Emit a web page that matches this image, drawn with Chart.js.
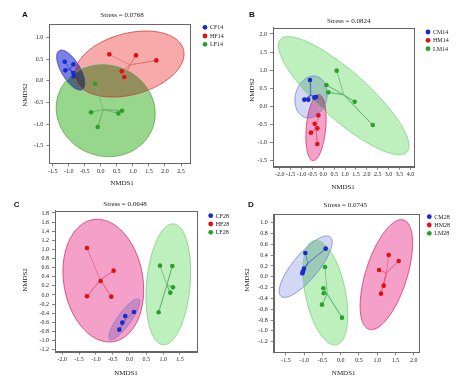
<!DOCTYPE html>
<html><head><meta charset="utf-8">
<style>html,body{margin:0;padding:0;background:#fff;width:474px;height:380px;overflow:hidden}canvas{position:absolute}</style>
<script src="https://cdn.jsdelivr.net/npm/chart.js@4"></script>
</head><body>
<script>
// ---------- DATA ----------
// Panel A
const aNames = ['CF14', 'HF14', 'LF14'];
const aStress = 'Stress = 0.0768';
const aBlue = [[-1.126,0.444],[-0.856,0.383],[-1.105,0.244],[-0.856,0.182],[-0.845,0.105]];
const aRed = [[0.266,0.614],[1.097,0.591],[1.731,0.475],[0.651,0.221],[0.734,0.090]];
const aGreen = [[-0.181,-0.065],[-0.305,-0.728],[-0.097,-1.068],[0.547,-0.752],[0.661,-0.690]];
const aCenters = [[-0.96,0.27],[0.91,0.37],[0.08,-0.66]];
// ellipse: [cx, cy, ux, uy, vx, vy] (centre + two conjugate semi-axes)
const aEllipses = [[-0.939,0.252,0.359,-0.448,0.249,0.110],[0.890,0.390,1.686,0.336,0.247,-0.686],[0.152,-0.690,1.465,-0.396,-0.483,-0.986]];
const aXTicks = [-1.5,-1.0,-0.5,0.0,0.5,1.0,1.5,2.0,2.5];
const aYTicks = [-1.5,-1.0,-0.5,0.0,0.5,1.0];

// Panel B
const bNames = ['CM14', 'HM14', 'LM14'];
const bStress = 'Stress = 0.0824';
const bBlue = [[-0.607,0.729],[-0.867,0.186],[-0.684,0.186],[-0.408,0.241],[-0.332,0.259]];
const bRed = [[-0.224,-0.247],[-0.393,-0.478],[-0.270,-0.607],[-0.561,-0.726],[-0.270,-1.040]];
const bGreen = [[0.617,0.987],[0.143,0.591],[0.235,0.388],[1.444,0.130],[2.271,-0.514]];
const bCenters = [[-0.58,0.32],[-0.34,-0.62],[0.94,0.32]];
const bEllipses = [[-0.561,0.259,0.254,0.569,0.695,-0.112],[-0.332,-0.588,0.138,0.912,0.444,-0.028],[0.939,0.296,2.908,-1.554,0.732,0.496]];
const bXTicks = [-2.0,-1.5,-1.0,-0.5,0.0,0.5,1.0,1.5,2.0,2.5,3.0,3.5,4.0];
const bYTicks = [-1.5,-1.0,-0.5,0.0,0.5,1.0,1.5,2.0];

// Panel C
const cNames = ['CF28', 'HF28', 'LF28'];
const cStress = 'Stress = 0.0648';
const cBlue = [[0.132,-0.373],[-0.126,-0.461],[-0.215,-0.607],[-0.305,-0.761]];
const cRed = [[-1.266,1.032],[-0.473,0.534],[-0.860,0.307],[-1.266,-0.029],[-0.543,-0.037]];
const cGreen = [[0.905,0.644],[1.272,0.637],[1.292,0.168],[1.212,0.051],[0.865,-0.380]];
const cCenters = [[-0.13,-0.55],[-0.87,0.33],[1.11,0.22]];
const cEllipses = [[-0.156,-0.534,0.429,0.440,0.161,-0.086],[-0.780,0.315,-0.306,1.338,1.160,0.144],[1.153,0.234,0.157,1.327,0.644,-0.042]];
const cXTicks = [-2.0,-1.5,-1.0,-0.5,0.0,0.5,1.0,1.5];
const cYTicks = [-1.2,-1.0,-0.8,-0.6,-0.4,-0.2,0.0,0.2,0.4,0.6,0.8,1.0,1.2,1.4,1.6,1.8];

// Panel D
const dNames = ['CM28', 'HM28', 'LM28'];
const dStress = 'Stress = 0.0745';
const dBlue = [[-0.970,0.439],[-0.413,0.519],[-1.007,0.150],[-1.034,0.100],[-1.052,0.063]];
const dRed = [[1.315,0.402],[1.589,0.291],[1.050,0.125],[1.178,-0.165],[1.104,-0.313]];
const dGreen = [[-0.431,0.180],[-0.477,-0.214],[-0.467,-0.306],[-0.513,-0.516],[0.035,-0.756]];
const dCenters = [[-0.90,0.25],[1.25,0.07],[-0.37,-0.32]];
const dEllipses = [[-0.961,0.187,0.676,0.548,0.267,-0.150],[1.251,0.039,0.475,1.010,0.540,-0.116],[-0.422,-0.294,0.302,-0.965,0.537,0.076]];
const dXTicks = [-1.5,-1.0,-0.5,0.0,0.5,1.0,1.5,2.0];
const dYTicks = [-1.2,-1.0,-0.8,-0.6,-0.4,-0.2,0.0,0.2,0.4,0.6,0.8,1.0];

// ---------- STYLES / LAYOUT ----------
const pointColors = ['#1a28d0', '#e01010', '#2aa02a'];
const styleStrong = {
  fills: [[120,130,230], [248,170,170], [150,215,140]],
  strokes: ['#2a35a8', '#d03a3a', '#5aa050'],
  spokes: ['rgba(50,60,200,0.8)', '#e07070', '#70b070']
};
const styleLight = {
  fills: [[210,215,245], [245,160,200], [190,240,190]],
  strokes: ['#7080d8', '#d0306a', '#80cc80'],
  spokes: ['#5a6ad0', '#e06080', '#60b070']
};

const panels = [
  { letter:'A', names:aNames, stress:aStress, groups:[aBlue,aRed,aGreen], centers:aCenters, ellipses:aEllipses,
    xt:aXTicks, yt:aYTicks, xr:[-1.606,2.780], yr:[-1.907,1.317], style:styleStrong,
    pos:[0,0], area:[49.3,24,190,163.3], letterAt:[25,15], titleAt:[122,15], xTitleAt:[122,183], yTitleAt:[25,95],
    legX:205, legY:[27.3,36,44.3] },
  { letter:'B', names:bNames, stress:bStress, groups:[bBlue,bRed,bGreen], centers:bCenters, ellipses:bEllipses,
    xt:bXTicks, yt:bYTicks, xr:[-2.306,4.18], yr:[-1.666,2.174], style:styleLight,
    pos:[237,0], area:[36,27.7,177.3,166.7], letterAt:[15,15], titleAt:[111.7,21], xTitleAt:[106,187.5], yTitleAt:[15,90],
    legX:191, legY:[32,40.3,48.7] },
  { letter:'C', names:cNames, stress:cStress, groups:[cBlue,cRed,cGreen], centers:cCenters, ellipses:cEllipses,
    xt:cXTicks, yt:cYTicks, xr:[-2.217,1.997], yr:[-1.245,1.85], style:styleLight, order:[1,0,2],
    pos:[0,190], area:[55,20.7,196.7,161.7], letterAt:[16.7,14.3], titleAt:[125,14.3], xTitleAt:[126,182.7], yTitleAt:[25,90],
    legX:210.7, legY:[25.7,34,42.3] },
  { letter:'D', names:dNames, stress:dStress, groups:[dBlue,dRed,dGreen], centers:dCenters, ellipses:dEllipses,
    xt:dXTicks, yt:dYTicks, xr:[-1.837,2.137], yr:[-1.397,1.16], style:styleLight,
    pos:[237,190], area:[36.7,24,181.7,162.3], letterAt:[14,15], titleAt:[108.3,15], xTitleAt:[106.7,182.7], yTitleAt:[10,90],
    legX:192.3, legY:[26.7,35,43.3] }
];

const W = 237, H = 190;
const serif = '"Liberation Serif", "Times New Roman", serif';

function ellipsePath(ctx, x, y, e) {
  ctx.beginPath();
  const n = 160;
  for (let k = 0; k <= n; k++) {
    const t = k / n * Math.PI * 2;
    const dx = e[0] + e[2] * Math.cos(t) + e[4] * Math.sin(t);
    const dy = e[1] + e[3] * Math.cos(t) + e[5] * Math.sin(t);
    const px = x.getPixelForValue(dx), py = y.getPixelForValue(dy);
    if (k === 0) ctx.moveTo(px, py); else ctx.lineTo(px, py);
  }
  ctx.closePath();
}

// every non-empty subset of the three ellipses, smallest first; overlaps get multiplied colours
const subsets = [[0],[1],[2],[0,1],[0,2],[1,2],[0,1,2]];

function panelPlugin(p) {
  return {
    id: 'panel' + p.letter,
    beforeDatasetsDraw(chart) {
      const { ctx, scales: { x, y } } = chart;
      subsets.forEach(s => {
        ctx.save();
        for (let j = 0; j < s.length - 1; j++) {
          ellipsePath(ctx, x, y, p.ellipses[s[j]]);
          ctx.clip();
        }
        ellipsePath(ctx, x, y, p.ellipses[s[s.length - 1]]);
        const col = [255, 255, 255];
        s.forEach(i => { for (let c = 0; c < 3; c++) col[c] = col[c] * p.style.fills[i][c] / 255; });
        ctx.fillStyle = 'rgb(' + col.map(Math.round).join(',') + ')';
        ctx.fill();
        ctx.restore();
      });
      ctx.save();
      const order = p.order || [0, 1, 2];
      order.forEach(i => {
        ellipsePath(ctx, x, y, p.ellipses[i]);
        ctx.lineWidth = 0.8;
        ctx.strokeStyle = p.style.strokes[i];
        ctx.stroke();
      });
      ctx.restore();
    },
    afterDraw(chart) {
      const { ctx, chartArea: a } = chart;
      ctx.save();
      ctx.strokeStyle = '#666';
      ctx.lineWidth = 1;
      const l = Math.round(a.left) + 0.5, t = Math.round(a.top) + 0.5;
      ctx.strokeRect(l, t, Math.round(a.right) - Math.round(a.left), Math.round(a.bottom) - Math.round(a.top));
      ctx.fillStyle = '#111';
      ctx.textAlign = 'center';
      ctx.textBaseline = 'middle';
      ctx.font = 'bold 8px "Liberation Sans", Arial, sans-serif';
      ctx.fillText(p.letter, p.letterAt[0], p.letterAt[1]);
      ctx.fillStyle = '#222';
      ctx.font = '7px ' + serif;
      ctx.fillText(p.stress, p.titleAt[0], p.titleAt[1]);
      ctx.fillText('NMDS1', p.xTitleAt[0], p.xTitleAt[1]);
      ctx.save();
      ctx.translate(p.yTitleAt[0], p.yTitleAt[1]);
      ctx.rotate(-Math.PI / 2);
      ctx.fillText('NMDS2', 0, 0);
      ctx.restore();
      ctx.textAlign = 'left';
      ctx.font = '6px ' + serif;
      p.names.forEach((nm, i) => {
        ctx.beginPath();
        ctx.arc(p.legX, p.legY[i], 2.4, 0, Math.PI * 2);
        ctx.fillStyle = pointColors[i];
        ctx.fill();
        ctx.fillStyle = '#222';
        ctx.fillText(nm, p.legX + 5, p.legY[i] + 0.3);
      });
      ctx.restore();
    }
  };
}

function axis(p, which) {
  const isX = which === 'x';
  return {
    type: 'linear',
    min: isX ? p.xr[0] : p.yr[0],
    max: isX ? p.xr[1] : p.yr[1],
    afterFit: s => { if (isX) s.height = H - p.area[3]; else s.width = p.area[0]; },
    afterBuildTicks: s => { s.ticks = (isX ? p.xt : p.yt).map(v => ({ value: v })); },
    ticks: {
      autoSkip: false, maxRotation: 0, minRotation: 0,
      padding: isX ? 1.5 : 3,
      color: '#222',
      font: { family: serif, size: 6 },
      callback: v => Number(v).toFixed(1)
    },
    grid: { display: true, drawOnChartArea: false, drawTicks: true, tickLength: 3, color: '#666', lineWidth: 0.8 },
    border: { display: true, color: '#666', width: 1 }
  };
}

panels.forEach(p => {
  const cv = document.createElement('canvas');
  cv.width = W; cv.height = H;
  cv.style.left = p.pos[0] + 'px';
  cv.style.top = p.pos[1] + 'px';
  cv.style.width = W + 'px'; cv.style.height = H + 'px';
  document.body.appendChild(cv);

  const datasets = [];
  p.groups.forEach((g, i) => {
    datasets.push({
      label: p.names[i],
      data: g.map(pt => ({ x: pt[0], y: pt[1] })),
      pointRadius: 2.3, pointHoverRadius: 2.3,
      pointBackgroundColor: pointColors[i], pointBorderWidth: 0,
      showLine: false, order: 0
    });
  });
  p.groups.forEach((g, i) => {
    const c = p.centers[i];
    const star = [];
    g.forEach(pt => { star.push({ x: pt[0], y: pt[1] }); star.push({ x: c[0], y: c[1] }); });
    datasets.push({
      label: p.names[i] + ' spider',
      data: star,
      showLine: true, pointRadius: 0, borderWidth: 0.7,
      borderColor: p.style.spokes[i], fill: false, tension: 0, order: 1
    });
  });

  new Chart(cv, {
    type: 'scatter',
    data: { datasets },
    options: {
      responsive: false, animation: false, devicePixelRatio: 1,
      layout: { padding: { left: 0, top: p.area[1], right: W - p.area[2], bottom: 0 } },
      plugins: { legend: { display: false }, tooltip: { enabled: false }, title: { display: false } },
      scales: { x: axis(p, 'x'), y: axis(p, 'y') }
    },
    plugins: [panelPlugin(p)]
  });
});
</script>
</body></html>
